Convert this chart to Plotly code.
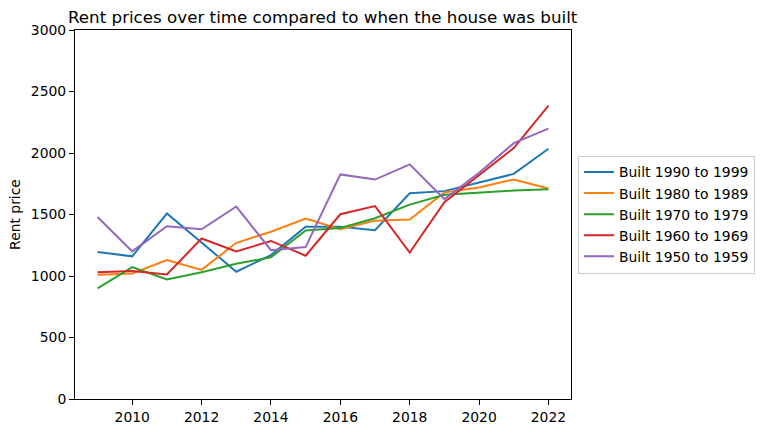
import plotly.graph_objects as go

years = list(range(2009, 2023))

series_names = [
    "Built 1990 to 1999",
    "Built 1980 to 1989",
    "Built 1970 to 1979",
    "Built 1960 to 1969",
    "Built 1950 to 1959",
]

built_1990s = [1195, 1160, 1508, 1270, 1035, 1170, 1400, 1400, 1372, 1672, 1690, 1760, 1830, 2035]
built_1980s = [1010, 1020, 1130, 1050, 1270, 1360, 1467, 1380, 1450, 1460, 1680, 1720, 1785, 1712]
built_1970s = [900, 1072, 972, 1030, 1100, 1152, 1370, 1390, 1470, 1580, 1660, 1680, 1695, 1705]
built_1960s = [1030, 1040, 1012, 1305, 1200, 1285, 1165, 1502, 1568, 1190, 1600, 1820, 2040, 2385]
built_1950s = [1480, 1200, 1405, 1380, 1565, 1210, 1235, 1826, 1784, 1908, 1625, 1840, 2080, 2198]

colors = ['#1f77b4', '#ff7f0e', '#2ca02c', '#d62728', '#9467bd']

fig = go.Figure()
for name, values, color in zip(
        series_names,
        [built_1990s, built_1980s, built_1970s, built_1960s, built_1950s],
        colors):
    fig.add_trace(go.Scatter(
        x=years, y=values, name=name, mode='lines',
        line=dict(color=color, width=2),
    ))

fig.update_layout(
    width=767,
    height=433,
    autosize=False,
    paper_bgcolor='white',
    plot_bgcolor='white',
    font=dict(family='DejaVu Sans', size=13.9, color='black'),
    margin=dict(l=75, r=196, t=30, b=34),
    title=dict(
        text="Rent prices over time compared to when the house was built",
        x=68 / 767, xanchor='left', y=1 - 17 / 433, yanchor='middle',
        font=dict(size=16.7, color='black'),
    ),
    legend=dict(
        x=1.014, xanchor='left', y=0.5, yanchor='middle',
        bordercolor='#cccccc', borderwidth=1,
        font=dict(size=13.9),
        itemwidth=30,
        tracegroupgap=0,
    ),
)

fig.update_xaxes(
    range=[2008.35, 2022.65],
    tickvals=list(range(2010, 2023, 2)),
    ticks='outside', ticklen=5, tickcolor='black',
    showline=True, linecolor='black', linewidth=1, mirror=True,
    showgrid=False, zeroline=False, automargin=False,
    tickfont=dict(size=13.9),
)
fig.update_yaxes(
    range=[0, 3000],
    tickvals=list(range(0, 3001, 500)),
    ticks='outside', ticklen=5, tickcolor='black',
    showline=True, linecolor='black', linewidth=1, mirror=True,
    showgrid=False, zeroline=False, automargin=True,
    tickfont=dict(size=13.9),
    title=dict(text='Rent price', font=dict(size=13.9), standoff=6),
)

# the page adds an 8px body margin; remove it so the figure sits at 0,0
fig.write_html(
    "out.html",
    config={'displayModeBar': False},
    post_script="document.body.style.margin='0';",
)
